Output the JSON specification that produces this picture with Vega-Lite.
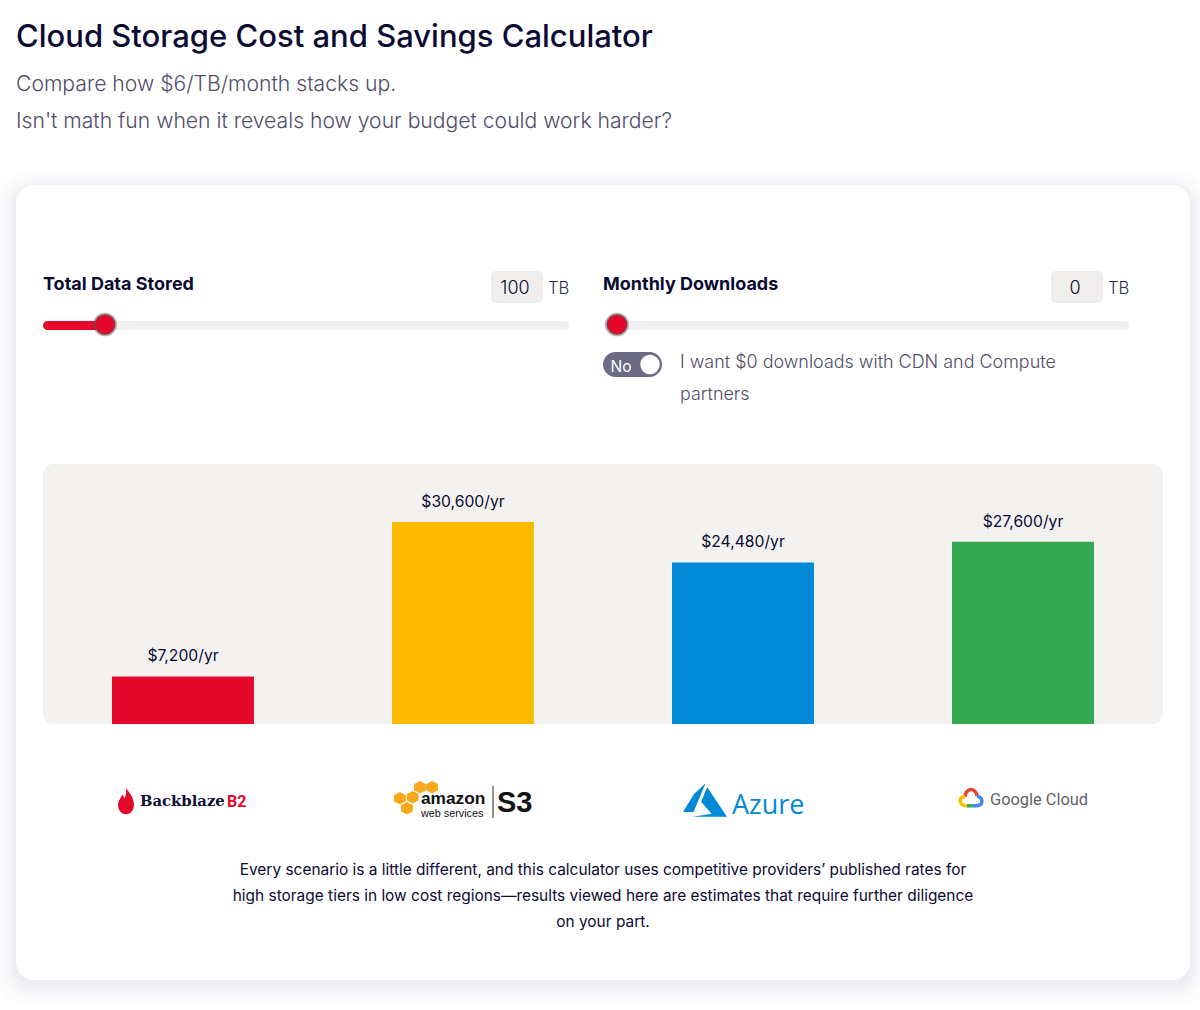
{
  "$schema": "https://vega.github.io/schema/vega-lite/v6.json",
  "autosize": {"type": "none"},
  "width": 1174,
  "height": 795,
  "padding": {"left": 16, "top": 185, "right": 10, "bottom": 30},
  "background": "#ffffff",
  "title": {
    "text": "Cloud Storage Cost and Savings Calculator",
    "subtitle": ["Compare how $6/TB/month stacks up.", "Isn't math fun when it reveals how your budget could work harder?"],
    "anchor": "start",
    "frame": "group",
    "offset": 38,
    "font": "Inter",
    "fontSize": 31,
    "fontWeight": 500,
    "color": "#0a0a33",
    "subtitleFont": "Inter",
    "subtitleFontSize": 21.15,
    "subtitleFontWeight": 300,
    "subtitleColor": "#4f4d6b",
    "subtitleLineHeight": 37,
    "subtitlePadding": 20
  },
  "config": {"view": {"stroke": null}, "text": {"font": "Inter"}},
  "datasets": {
    "costs": [
      {"provider": "Backblaze B2", "cost": 7200, "label": "$7,200/yr"},
      {"provider": "Amazon S3", "cost": 30600, "label": "$30,600/yr"},
      {"provider": "Azure", "cost": 24480, "label": "$24,480/yr"},
      {"provider": "Google Cloud", "cost": 27600, "label": "$27,600/yr"}
    ],
    "note": [
      {"part": "ui", "line": 1, "t": "Every scenario is a little different, and this calculator uses competitive providers’ published rates for"},
      {"part": "ui", "line": 2, "t": "high storage tiers in low cost regions—results viewed here are estimates that require further diligence"},
      {"part": "ui", "line": 3, "t": "on your part."}
    ],
    "cloud": [
      {"part": "ui", "segment": "red"},
      {"part": "ui", "segment": "blue"},
      {"part": "ui", "segment": "green"},
      {"part": "ui", "segment": "yellow"}
    ]
  },
  "data": {"values": [{"part": "ui"}]},
  "layer": [
    {"mark": {"type": "rect", "fill": "#2a2060", "opacity": 0.012, "cornerRadius": 34},
     "encoding": {"x": {"datum": 0, "axis": null, "scale": {"domain": [0, 1], "range": [-20, 1194]}}, "x2": {"datum": 1},
                  "y": {"datum": 0, "axis": null, "scale": {"domain": [0, 1], "range": [-14, 821]}}, "y2": {"datum": 1}}},
    {"mark": {"type": "rect", "fill": "#2a2060", "opacity": 0.014, "cornerRadius": 30},
     "encoding": {"x": {"datum": 0, "axis": null, "scale": {"domain": [0, 1], "range": [-14, 1188]}}, "x2": {"datum": 1},
                  "y": {"datum": 0, "axis": null, "scale": {"domain": [0, 1], "range": [-9, 815]}}, "y2": {"datum": 1}}},
    {"mark": {"type": "rect", "fill": "#2a2060", "opacity": 0.016, "cornerRadius": 26},
     "encoding": {"x": {"datum": 0, "axis": null, "scale": {"domain": [0, 1], "range": [-9, 1183]}}, "x2": {"datum": 1},
                  "y": {"datum": 0, "axis": null, "scale": {"domain": [0, 1], "range": [-5, 810]}}, "y2": {"datum": 1}}},
    {"mark": {"type": "rect", "fill": "#2a2060", "opacity": 0.02, "cornerRadius": 22},
     "encoding": {"x": {"datum": 0, "axis": null, "scale": {"domain": [0, 1], "range": [-5, 1179]}}, "x2": {"datum": 1},
                  "y": {"datum": 0, "axis": null, "scale": {"domain": [0, 1], "range": [-2, 806]}}, "y2": {"datum": 1}}},
    {"mark": {"type": "rect", "fill": "#2a2060", "opacity": 0.024, "cornerRadius": 20},
     "encoding": {"x": {"datum": 0, "axis": null, "scale": {"domain": [0, 1], "range": [-2, 1176]}}, "x2": {"datum": 1},
                  "y": {"datum": 0, "axis": null, "scale": {"domain": [0, 1], "range": [0, 801]}}, "y2": {"datum": 1}}},
    {"mark": {"type": "rect", "fill": "#ffffff", "cornerRadius": 18},
     "encoding": {"x": {"datum": 0, "axis": null, "scale": {"domain": [0, 1], "range": [0, 1174]}}, "x2": {"datum": 1},
                  "y": {"datum": 0, "axis": null, "scale": {"domain": [0, 1], "range": [0, 795]}}, "y2": {"datum": 1}}},

    {"mark": {"type": "rect", "fill": "#f0f0f0", "cornerRadius": 4.5},
     "encoding": {"x": {"datum": 0, "axis": null, "scale": {"domain": [0, 1], "range": [27, 553]}}, "x2": {"datum": 1},
                  "y": {"datum": 0, "axis": null, "scale": {"domain": [0, 1], "range": [136, 145]}}, "y2": {"datum": 1}}},
    {"mark": {"type": "rect", "fill": "#f0f0f0", "cornerRadius": 4.5},
     "encoding": {"x": {"datum": 0, "axis": null, "scale": {"domain": [0, 1], "range": [587, 1113]}}, "x2": {"datum": 1},
                  "y": {"datum": 0, "axis": null, "scale": {"domain": [0, 1], "range": [136, 145]}}, "y2": {"datum": 1}}},
    {"data": {"values": [{"control": "Total Data Stored", "value": 100}]},
     "mark": {"type": "rect", "fill": "#e4092a", "cornerRadius": 4.5},
     "encoding": {"x": {"field": "value", "type": "quantitative", "axis": null, "scale": {"domain": [0, 848], "range": [27, 553]}}, "x2": {"datum": 0},
                  "y": {"datum": 0, "axis": null, "scale": {"domain": [0, 1], "range": [136, 145]}}, "y2": {"datum": 1}}},
    {"data": {"values": [{"control": "Total Data Stored", "value": 100}]},
     "mark": {"type": "point", "filled": true, "fill": "#e4092a", "size": 430, "stroke": "#555555", "strokeWidth": 3, "strokeOpacity": 0.45, "opacity": 1},
     "encoding": {"x": {"field": "value", "type": "quantitative", "axis": null, "scale": {"domain": [0, 848], "range": [27, 553]}},
                  "y": {"field": "control", "type": "nominal", "axis": null, "scale": {"type": "point", "range": [139.5, 139.5]}}}},
    {"data": {"values": [{"control": "Monthly Downloads", "value": 0}]},
     "mark": {"type": "point", "filled": true, "fill": "#e4092a", "size": 430, "stroke": "#555555", "strokeWidth": 3, "strokeOpacity": 0.45, "opacity": 1},
     "encoding": {"x": {"field": "value", "type": "quantitative", "axis": null, "scale": {"domain": [0, 100], "range": [601, 1113]}},
                  "y": {"field": "control", "type": "nominal", "axis": null, "scale": {"type": "point", "range": [139.5, 139.5]}}}},

    {"data": {"values": [{"part": "ui", "t": "Total Data Stored"}, {"part": "ui", "t": "Monthly Downloads"}]},
     "mark": {"type": "text", "align": "left", "baseline": "middle", "fontSize": 18, "fontWeight": 700, "color": "#0a0a33"},
     "encoding": {"x": {"field": "t", "type": "nominal", "axis": null, "sort": null, "scale": {"type": "point", "padding": 0, "range": [27, 587]}},
                  "y": {"field": "part", "type": "nominal", "axis": null, "scale": {"type": "point", "range": [100, 100]}},
                  "text": {"field": "t"}}},
    {"mark": {"type": "rect", "fill": "#efeeec", "cornerRadius": 5},
     "encoding": {"x": {"datum": 0, "axis": null, "scale": {"domain": [0, 1], "range": [475, 527]}}, "x2": {"datum": 1},
                  "y": {"datum": 0, "axis": null, "scale": {"domain": [0, 1], "range": [86, 118]}}, "y2": {"datum": 1}}},
    {"mark": {"type": "rect", "fill": "#efeeec", "cornerRadius": 5},
     "encoding": {"x": {"datum": 0, "axis": null, "scale": {"domain": [0, 1], "range": [1035, 1087]}}, "x2": {"datum": 1},
                  "y": {"datum": 0, "axis": null, "scale": {"domain": [0, 1], "range": [86, 118]}}, "y2": {"datum": 1}}},
    {"data": {"values": [{"part": "ui", "control": "Total Data Stored", "value": "100"}, {"part": "ui", "control": "Monthly Downloads", "value": "0"}]},
     "mark": {"type": "text", "align": "center", "baseline": "middle", "fontSize": 18, "fontWeight": 300, "color": "#0a0a33"},
     "encoding": {"x": {"field": "control", "type": "nominal", "axis": null, "sort": null, "scale": {"type": "point", "padding": 0, "range": [499, 1059]}},
                  "y": {"field": "part", "type": "nominal", "axis": null, "scale": {"type": "point", "range": [104, 104]}},
                  "text": {"field": "value"}}},
    {"data": {"values": [{"part": "ui", "control": "Total Data Stored", "unit": "TB"}, {"part": "ui", "control": "Monthly Downloads", "unit": "TB"}]},
     "mark": {"type": "text", "align": "left", "baseline": "middle", "fontSize": 16.6, "fontWeight": 300, "color": "#2f2d4d"},
     "encoding": {"x": {"field": "control", "type": "nominal", "axis": null, "sort": null, "scale": {"type": "point", "padding": 0, "range": [532, 1092]}},
                  "y": {"field": "part", "type": "nominal", "axis": null, "scale": {"type": "point", "range": [104, 104]}},
                  "text": {"field": "unit"}}},

    {"mark": {"type": "rect", "fill": "#6d6a85", "cornerRadius": 12.5},
     "encoding": {"x": {"datum": 0, "axis": null, "scale": {"domain": [0, 1], "range": [587, 646]}}, "x2": {"datum": 1},
                  "y": {"datum": 0, "axis": null, "scale": {"domain": [0, 1], "range": [167, 192]}}, "y2": {"datum": 1}}},
    {"data": {"values": [{"toggle": "No"}]},
     "mark": {"type": "text", "align": "center", "baseline": "middle", "fontSize": 15.5, "fontWeight": 400, "color": "#ffffff"},
     "encoding": {"x": {"field": "toggle", "type": "nominal", "axis": null, "scale": {"type": "point", "range": [605, 605]}},
                  "y": {"field": "toggle", "type": "nominal", "axis": null, "scale": {"type": "point", "range": [182, 182]}},
                  "text": {"field": "toggle"}}},
    {"data": {"values": [{"toggle": "No"}]},
     "mark": {"type": "point", "filled": true, "fill": "#ffffff", "size": 380, "opacity": 1},
     "encoding": {"x": {"field": "toggle", "type": "nominal", "axis": null, "scale": {"type": "point", "range": [634, 634]}},
                  "y": {"field": "toggle", "type": "nominal", "axis": null, "scale": {"type": "point", "range": [179.5, 179.5]}}}},
    {"data": {"values": [{"part": "ui", "line": 1, "t": "I want $0 downloads with CDN and Compute"}, {"part": "ui", "line": 2, "t": "partners"}]},
     "mark": {"type": "text", "align": "left", "baseline": "middle", "fontSize": 17.95, "fontWeight": 300, "color": "#4f4d6b"},
     "encoding": {"x": {"field": "part", "type": "nominal", "axis": null, "scale": {"type": "point", "range": [664, 664]}},
                  "y": {"field": "line", "type": "ordinal", "axis": null, "scale": {"type": "point", "padding": 0, "range": [178, 209.5]}},
                  "text": {"field": "t"}}},

    {"mark": {"type": "rect", "fill": "#f4f2f0", "cornerRadius": 10},
     "encoding": {"x": {"datum": 0, "axis": null, "scale": {"domain": [0, 1], "range": [27, 1147]}}, "x2": {"datum": 1},
                  "y": {"datum": 0, "axis": null, "scale": {"domain": [0, 1], "range": [279, 539]}}, "y2": {"datum": 1}}},
    {"data": {"name": "costs"},
     "mark": {"type": "bar"},
     "encoding": {"x": {"field": "provider", "type": "nominal", "axis": null, "sort": null,
                        "scale": {"type": "band", "range": [27, 1147], "paddingInner": 0.493, "paddingOuter": 0.2465}},
                  "y": {"field": "cost", "type": "quantitative", "axis": null, "scale": {"domain": [0, 30600], "range": [539, 337]}},
                  "color": {"field": "provider", "type": "nominal", "legend": null, "sort": null,
                            "scale": {"domain": ["Backblaze B2", "Amazon S3", "Azure", "Google Cloud"], "range": ["#e4092a", "#fdb900", "#0089d6", "#34a853"]}}}},
    {"data": {"name": "costs"},
     "mark": {"type": "text", "align": "center", "baseline": "bottom", "dy": -12, "fontSize": 15.7, "fontWeight": 400, "color": "#0a0a33"},
     "encoding": {"x": {"field": "provider", "type": "nominal", "axis": null, "sort": null,
                        "scale": {"type": "band", "range": [27, 1147], "paddingInner": 0.493, "paddingOuter": 0.2465}},
                  "y": {"field": "cost", "type": "quantitative", "axis": null, "scale": {"domain": [0, 30600], "range": [539, 337]}},
                  "text": {"field": "label"}}},

    {"data": {"values": [{"t": "flame"}]},
     "mark": {"type": "point", "filled": true, "fill": "#e4092a", "size": 700, "opacity": 1,
              "shape": "M0,-1 C0.25,-0.6 0.6,-0.3 0.6,0.3 C0.6,0.75 0.3,1 0,1 C-0.3,1 -0.6,0.75 -0.6,0.3 C-0.6,-0.05 -0.35,-0.25 -0.3,-0.5 C-0.2,-0.4 -0.15,-0.3 -0.1,-0.2 C0,-0.45 0.05,-0.7 0,-1 Z"},
     "encoding": {"x": {"field": "t", "type": "nominal", "axis": null, "scale": {"type": "point", "range": [110, 110]}},
                  "y": {"field": "t", "type": "nominal", "axis": null, "scale": {"type": "point", "range": [616, 616]}}}},
    {"data": {"values": [{"t": "Backblaze"}]},
     "mark": {"type": "text", "align": "left", "baseline": "middle", "font": "DejaVu Serif", "fontSize": 14.8, "fontWeight": 700, "color": "#0f1038"},
     "encoding": {"x": {"field": "t", "type": "nominal", "axis": null, "scale": {"type": "point", "range": [124, 124]}},
                  "y": {"field": "t", "type": "nominal", "axis": null, "scale": {"type": "point", "range": [617, 617]}},
                  "text": {"field": "t"}}},
    {"data": {"values": [{"t": "B2"}]},
     "mark": {"type": "text", "align": "left", "baseline": "middle", "font": "Roboto", "fontSize": 16, "fontWeight": 700, "color": "#e4092a"},
     "encoding": {"x": {"field": "t", "type": "nominal", "axis": null, "scale": {"type": "point", "range": [211, 211]}},
                  "y": {"field": "t", "type": "nominal", "axis": null, "scale": {"type": "point", "range": [617, 617]}},
                  "text": {"field": "t"}}},

    {"data": {"values": [{"t": "aws"}]},
     "mark": {"type": "point", "filled": true, "fill": "#f7a81b", "size": 1936, "opacity": 1,
              "shape": "M-0.09,-0.63 L0.18,-0.77 L0.45,-0.63 L0.45,-0.35 L0.18,-0.2 L-0.09,-0.35 Z M0.46,-0.63 L0.73,-0.77 L1,-0.63 L1,-0.35 L0.73,-0.2 L0.46,-0.35 Z M-1,-0.13 L-0.73,-0.27 L-0.46,-0.13 L-0.46,0.15 L-0.73,0.3 L-1,0.15 Z M-0.42,-0.18 L-0.15,-0.32 L0.12,-0.18 L0.12,0.1 L-0.15,0.25 L-0.42,0.1 Z M-0.68,0.32 L-0.41,0.18 L-0.14,0.32 L-0.14,0.6 L-0.41,0.75 L-0.68,0.6 Z"},
     "encoding": {"x": {"field": "t", "type": "nominal", "axis": null, "scale": {"type": "point", "range": [400, 400]}},
                  "y": {"field": "t", "type": "nominal", "axis": null, "scale": {"type": "point", "range": [613, 613]}}}},
    {"data": {"values": [{"t": "amazon"}]},
     "mark": {"type": "text", "align": "left", "baseline": "middle", "font": "Liberation Sans", "fontSize": 17.3, "fontWeight": 700, "color": "#111111"},
     "encoding": {"x": {"field": "t", "type": "nominal", "axis": null, "scale": {"type": "point", "range": [405, 405]}},
                  "y": {"field": "t", "type": "nominal", "axis": null, "scale": {"type": "point", "range": [614, 614]}},
                  "text": {"field": "t"}}},
    {"data": {"values": [{"t": "web services"}]},
     "mark": {"type": "text", "align": "left", "baseline": "middle", "font": "Liberation Sans", "fontSize": 10.8, "color": "#111111"},
     "encoding": {"x": {"field": "t", "type": "nominal", "axis": null, "scale": {"type": "point", "range": [405, 405]}},
                  "y": {"field": "t", "type": "nominal", "axis": null, "scale": {"type": "point", "range": [629, 629]}},
                  "text": {"field": "t"}}},
    {"mark": {"type": "rect", "fill": "#222222"},
     "encoding": {"x": {"datum": 0, "axis": null, "scale": {"domain": [0, 1], "range": [476.5, 477.5]}}, "x2": {"datum": 1},
                  "y": {"datum": 0, "axis": null, "scale": {"domain": [0, 1], "range": [601, 633]}}, "y2": {"datum": 1}}},
    {"data": {"values": [{"t": "S3"}]},
     "mark": {"type": "text", "align": "left", "baseline": "middle", "font": "Liberation Sans", "fontSize": 29, "fontWeight": 700, "color": "#111111"},
     "encoding": {"x": {"field": "t", "type": "nominal", "axis": null, "scale": {"type": "point", "range": [481, 481]}},
                  "y": {"field": "t", "type": "nominal", "axis": null, "scale": {"type": "point", "range": [618, 618]}},
                  "text": {"field": "t"}}},

    {"data": {"values": [{"t": "azure-mark"}]},
     "mark": {"type": "point", "filled": true, "fill": "#0089d6", "size": 1936, "opacity": 1,
              "shape": "M0.02,-0.8 L-0.5,-0.32 L-1,0.5 L-0.52,0.5 Z M0.1,-0.62 L-0.18,0.03 L0.3,0.58 L-0.55,0.72 L1,0.72 Z"},
     "encoding": {"x": {"field": "t", "type": "nominal", "axis": null, "scale": {"type": "point", "range": [689, 689]}},
                  "y": {"field": "t", "type": "nominal", "axis": null, "scale": {"type": "point", "range": [616, 616]}}}},
    {"data": {"values": [{"t": "Azure"}]},
     "mark": {"type": "text", "align": "left", "baseline": "middle", "font": "Open Sans", "fontSize": 27, "fontWeight": 400, "color": "#0089d6"},
     "encoding": {"x": {"field": "t", "type": "nominal", "axis": null, "scale": {"type": "point", "range": [716, 716]}},
                  "y": {"field": "t", "type": "nominal", "axis": null, "scale": {"type": "point", "range": [621, 621]}},
                  "text": {"field": "t"}}},

    {"data": {"name": "cloud"},
     "mark": {"type": "point", "filled": false, "size": 576, "strokeWidth": 3.5, "opacity": 1},
     "encoding": {"x": {"field": "part", "type": "nominal", "axis": null, "scale": {"type": "point", "range": [955, 955]}},
                  "y": {"field": "part", "type": "nominal", "axis": null, "scale": {"type": "point", "range": [613, 613]}},
                  "color": {"field": "segment", "type": "nominal", "legend": null,
                            "scale": {"domain": ["red", "blue", "green", "yellow"], "range": ["#ea4335", "#4285f4", "#34a853", "#fbbc05"]}},
                  "shape": {"field": "segment", "type": "nominal", "legend": null,
                            "scale": {"domain": ["red", "blue", "green", "yellow"],
                                      "range": ["M-0.5,-0.1 C-0.45,-0.6 -0.1,-0.75 0.1,-0.7 C0.3,-0.65 0.5,-0.4 0.5,-0.15",
                                                "M0.5,-0.15 C0.85,-0.1 0.95,0.2 0.9,0.35 C0.85,0.6 0.6,0.65 0.4,0.65 L0.15,0.65",
                                                "M0.15,0.65 L-0.35,0.65",
                                                "M-0.35,0.65 C-0.8,0.65 -0.95,0.35 -0.9,0.15 C-0.85,-0.05 -0.7,-0.1 -0.5,-0.1"]}}}},
    {"data": {"values": [{"t": "Google Cloud"}]},
     "mark": {"type": "text", "align": "left", "baseline": "middle", "font": "Roboto", "fontSize": 16.4, "fontWeight": 400, "color": "#5f6368"},
     "encoding": {"x": {"field": "t", "type": "nominal", "axis": null, "scale": {"type": "point", "range": [974, 974]}},
                  "y": {"field": "t", "type": "nominal", "axis": null, "scale": {"type": "point", "range": [615, 615]}},
                  "text": {"field": "t"}}},

    {"data": {"name": "note"},
     "mark": {"type": "text", "align": "center", "baseline": "middle", "fontSize": 15.45, "fontWeight": 400, "color": "#0a0a33"},
     "encoding": {"x": {"field": "part", "type": "nominal", "axis": null, "scale": {"type": "point", "range": [587, 587]}},
                  "y": {"field": "line", "type": "ordinal", "axis": null, "scale": {"type": "point", "padding": 0, "range": [685, 737]}},
                  "text": {"field": "t"}}}
  ],
  "resolve": {"scale": {"x": "independent", "y": "independent", "color": "independent", "shape": "independent"}}
}
